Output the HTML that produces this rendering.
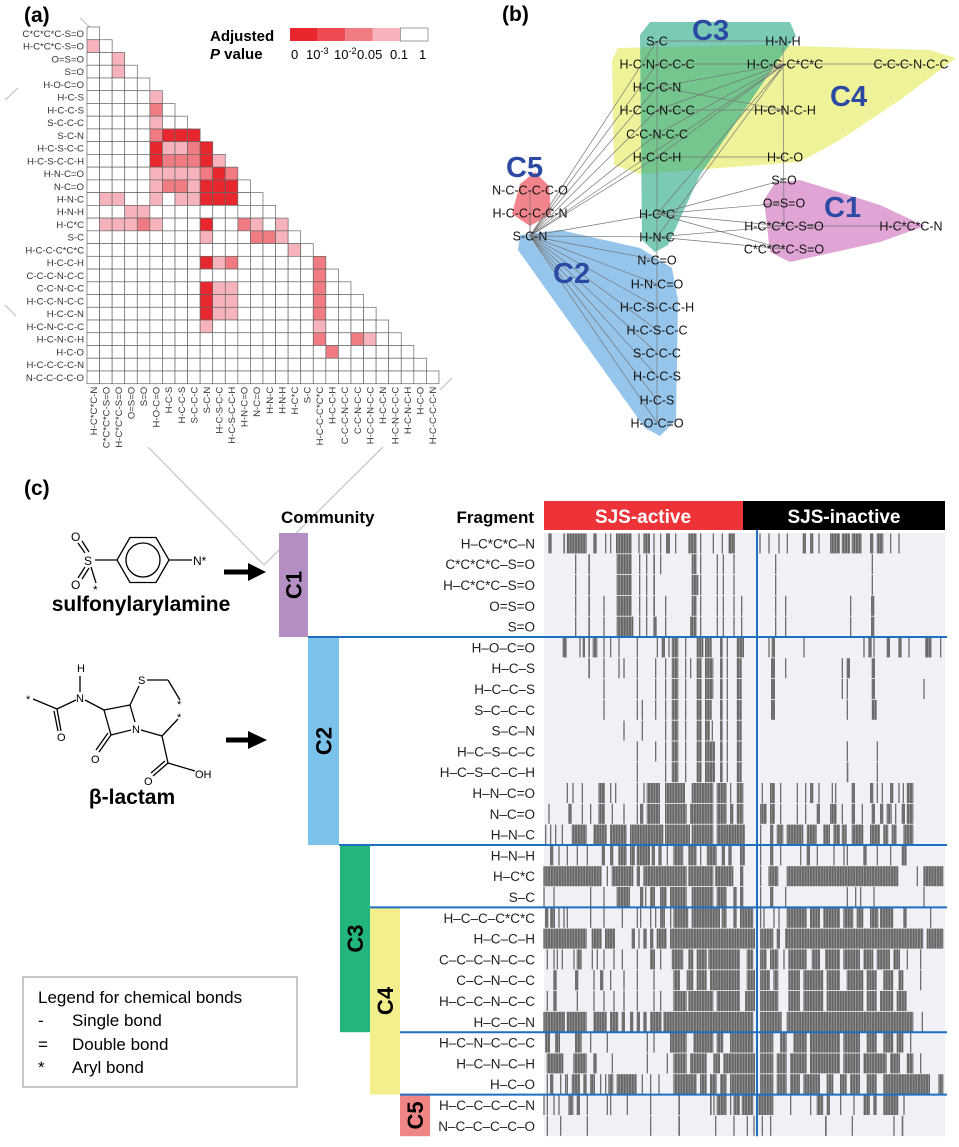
<!DOCTYPE html>
<html><head><meta charset="utf-8"><style>
html,body{margin:0;padding:0;background:#fff}
svg{display:block;font-family:"Liberation Sans",Arial,sans-serif}
</style></head><body>
<svg id="fig" width="959" height="1147" viewBox="0 0 959 1147" xmlns="http://www.w3.org/2000/svg">
<defs>
<pattern id="stripes" width="2.7" height="10" patternUnits="userSpaceOnUse"><rect x="0" y="0" width="2.7" height="10" fill="#a4a4a8"/><rect x="0" y="0" width="2" height="10" fill="#666"/></pattern>
</defs>
<text x="24" y="22" font-size="21" font-weight="bold">(a)</text>
<text x="502" y="21" font-size="21" font-weight="bold">(b)</text>
<text x="24" y="495" font-size="21" font-weight="bold">(c)</text>
<g stroke="#bbb" stroke-width="1">
<line x1="148" y1="447" x2="264" y2="565"/><line x1="383" y1="447" x2="264" y2="565"/>
<line x1="80" y1="18" x2="90" y2="27"/><line x1="5" y1="100" x2="18" y2="88"/><line x1="5" y1="305" x2="16" y2="316"/><line x1="440" y1="390" x2="452" y2="378"/>
</g>
<g id="pa"></g>
<g>
<text x="210" y="41" font-size="15" font-weight="bold">Adjusted</text>
<text x="210" y="59" font-size="15" font-weight="bold"><tspan font-style="italic">P</tspan> value</text>
<rect x="290" y="28" width="27.6" height="13" fill="#e8262e"/><rect x="317.6" y="28" width="27.6" height="13" fill="#ee4a52"/><rect x="345.2" y="28" width="27.6" height="13" fill="#f07b82"/><rect x="372.8" y="28" width="27.6" height="13" fill="#f7b3bb"/><rect x="400.4" y="28" width="27.6" height="13" fill="#fff" stroke="#888" stroke-width="0.8"/>
<text y="59" font-size="13"><tspan x="291">0</tspan><tspan x="306">10</tspan><tspan dy="-5" font-size="9">-3</tspan><tspan x="334" dy="5">10</tspan><tspan dy="-5" font-size="9">-2</tspan><tspan x="357" dy="5">0.05</tspan><tspan x="390">0.1</tspan><tspan x="419">1</tspan></text>
</g>
<g id="pb"></g>
<g id="pc"></g>
<g stroke="#000" stroke-width="1.3" fill="none">
<polygon points="169,560 156,582.5 130,582.5 117,560 130,537.5 156,537.5"/>
<circle cx="143" cy="560" r="17"/>
<line x1="95" y1="560" x2="117" y2="560"/><line x1="169" y1="560" x2="192" y2="560"/>
<line x1="85" y1="553" x2="78" y2="543"/><line x1="89" y1="552" x2="82" y2="541"/>
<line x1="85" y1="567" x2="78" y2="578"/><line x1="89" y1="568" x2="82" y2="579"/>
<line x1="91" y1="567" x2="96" y2="583"/>
</g>
<g font-size="12">
<text x="84" y="565">S</text><text x="71" y="541">O</text><text x="71" y="589">O</text><text x="93" y="594">*</text><text x="193" y="565">N*</text>
</g>
<text x="141" y="611" font-size="21" font-weight="bold" text-anchor="middle">sulfonylarylamine</text>
<g stroke="#000" stroke-width="1.3" fill="none">
<line x1="33" y1="699" x2="57" y2="709"/><line x1="57" y1="709" x2="61" y2="731"/><line x1="54" y1="711" x2="58" y2="731"/>
<line x1="57" y1="709" x2="76" y2="700"/><line x1="80" y1="692" x2="80" y2="676"/><line x1="85" y1="700" x2="104" y2="710"/>
<line x1="104" y1="710" x2="130" y2="705"/><line x1="130" y1="705" x2="135" y2="722"/><line x1="131" y1="730" x2="111" y2="735"/><line x1="111" y1="735" x2="104" y2="710"/>
<line x1="111" y1="735" x2="99" y2="752"/><line x1="108" y1="733" x2="96" y2="750"/>
<line x1="130" y1="705" x2="139" y2="686"/><line x1="147" y1="680" x2="168" y2="680"/><line x1="168" y1="680" x2="180" y2="700"/>
<line x1="141" y1="730" x2="162" y2="736"/><line x1="162" y1="736" x2="178" y2="719"/><line x1="162" y1="736" x2="168" y2="763"/>
<line x1="168" y1="763" x2="153" y2="776"/><line x1="165" y1="761" x2="151" y2="773"/><line x1="168" y1="763" x2="195" y2="771"/>
</g>
<g font-size="11">
<text x="26" y="703">*</text><text x="57" y="741">O</text><text x="76" y="702">N</text><text x="77" y="672">H</text><text x="132" y="733">N</text><text x="91" y="763">O</text><text x="138" y="684">S</text><text x="177" y="708">*</text><text x="177" y="721">*</text><text x="144" y="785">O</text><text x="195" y="778">OH</text>
</g>
<text x="132" y="804" font-size="21" font-weight="bold" text-anchor="middle">β-lactam</text>
<g fill="#000">
<rect x="224" y="569.5" width="26" height="5"/><polygon points="248,563 266,572 248,581"/>
<rect x="226" y="737.5" width="24" height="5"/><polygon points="248,731 267,740 248,749"/>
</g>
<g>
<rect x="23" y="977" width="274" height="110" fill="#fff" stroke="#aaa" stroke-width="1.3"/>
<text x="38" y="1003" font-size="17">Legend for chemical bonds</text>
<text x="38" y="1026" font-size="17">-</text><text x="72" y="1026" font-size="17">Single bond</text>
<text x="38" y="1050" font-size="17">=</text><text x="72" y="1050" font-size="17">Double bond</text>
<text x="38" y="1073" font-size="17">*</text><text x="72" y="1073" font-size="17">Aryl bond</text>
</g>
</svg>
<script>
const NS="http://www.w3.org/2000/svg";
function mk(tag,attrs,parent){const e=document.createElementNS(NS,tag);for(const k in attrs)e.setAttribute(k,attrs[k]);parent.appendChild(e);return e;}

// ---------- Panel A data ----------
const rowLabels=["C*C*C*C-S=O","H-C*C*C-S=O","O=S=O","S=O","H-O-C=O","H-C-S","H-C-C-S","S-C-C-C","S-C-N","H-C-S-C-C","H-C-S-C-C-H","H-N-C=O","N-C=O","H-N-C","H-N-H","H-C*C","S-C","H-C-C-C*C*C","H-C-C-H","C-C-C-N-C-C","C-C-N-C-C","H-C-C-N-C-C","H-C-C-N","H-C-N-C-C-C","H-C-N-C-H","H-C-O","H-C-C-C-C-N","N-C-C-C-C-O"];
const colLabels=["H-C*C*C-N","C*C*C*C-S=O","H-C*C*C-S=O","O=S=O","S=O","H-O-C=O","H-C-S","H-C-C-S","S-C-C-C","S-C-N","H-C-S-C-C","H-C-S-C-C-H","H-N-C=O","N-C=O","H-N-C","H-N-H","H-C*C","S-C","H-C-C-C*C*C","H-C-C-H","C-C-C-N-C-C","C-C-N-C-C","H-C-C-N-C-C","H-C-C-N","H-C-N-C-C-C","H-C-N-C-H","H-C-O","H-C-C-C-C-N"];
const levelColors=["#ffffff","#e8262e","#ee4a52","#f07b82","#f7b3bb"];
// [row, col, level] (1 = p<1e-3 ... 4 = p<0.1)
const sigCells=[[1,0,4],[2,2,4],[3,2,4],[5,5,4],[6,5,3],[7,5,4],[8,5,3],[8,6,1],[8,7,1],[8,8,1],
[9,5,1],[9,6,4],[9,7,4],[9,8,3],[9,9,1],[10,5,1],[10,6,3],[10,7,3],[10,8,3],[10,9,1],[10,10,4],
[11,5,4],[11,6,4],[11,7,4],[11,8,4],[11,9,3],[11,10,1],[11,11,3],[12,5,4],[12,6,3],[12,7,3],[12,8,4],[12,9,1],[12,10,1],[12,11,1],
[13,1,4],[13,2,4],[13,5,4],[13,7,4],[13,8,4],[13,9,1],[13,10,1],[13,11,1],[14,3,4],[14,4,4],
[15,1,4],[15,2,4],[15,3,4],[15,4,3],[15,5,4],[15,9,1],[15,12,3],[15,13,4],[15,15,4],[16,9,4],[16,13,3],[16,14,3],[16,15,4],
[17,16,4],[18,9,1],[18,10,4],[18,11,3],[18,18,3],[19,18,3],[20,9,1],[20,10,4],[20,11,4],[20,18,3],[21,9,1],[21,10,4],[21,11,4],[21,18,3],
[22,9,1],[22,10,4],[22,11,4],[22,18,3],[23,9,4],[23,18,4],[24,18,3],[24,21,3],[24,22,4],[25,19,3]];

// ---------- Panel B data ----------
const nodeNames=["S-C","H-N-H","H-C-N-C-C-C","H-C-C-C*C*C","C-C-C-N-C-C","H-C-C-N","H-C-C-N-C-C","H-C-N-C-H","C-C-N-C-C","H-C-C-H","H-C-O","S=O","O=S=O","H-C*C*C-S=O","H-C*C*C-N","C*C*C*C-S=O","N-C-C-C-C-O","H-C-C-C-C-N","S-C-N","H-C*C","H-N-C","N-C=O","H-N-C=O","H-C-S-C-C-H","H-C-S-C-C","S-C-C-C","H-C-C-S","H-C-S","H-O-C=O"];
const nodeX=[657,783,657,785,911,657,657,785,657,657,785,784,784,784,911,784,530,530,530,657,657,657,657,657,657,657,657,657,657];
const nodeY=[41,41,64,64,64,87,110,110,134,157,157,180,203,226,226,249,190,213,236,214,237,260,284,307,330,353,376,400,423];
const edges=[["S-C-N","N-C-C-C-C-O"],["S-C-N","H-C-C-C-C-N"],["S-C-N","S-C"],["S-C-N","H-C-N-C-C-C"],["S-C-N","H-C-C-N"],["S-C-N","H-C-C-N-C-C"],["S-C-N","C-C-N-C-C"],["S-C-N","H-C-C-H"],["S-C-N","H-C*C"],["S-C-N","H-N-C"],["S-C-N","N-C=O"],["S-C-N","H-N-C=O"],["S-C-N","H-C-S-C-C-H"],["S-C-N","H-C-S-C-C"],["S-C-N","S-C-C-C"],["S-C-N","H-C-C-S"],["S-C-N","H-C-S"],["S-C-N","H-O-C=O"],["S-C-N","H-C-C-C*C*C"],
["H-C-C-C*C*C","H-C-N-C-C-C"],["H-C-C-C*C*C","C-C-C-N-C-C"],["H-C-C-C*C*C","H-C-C-N"],["H-C-C-C*C*C","H-C-C-N-C-C"],["H-C-C-C*C*C","C-C-N-C-C"],["H-C-C-C*C*C","H-C-C-H"],["H-C-C-C*C*C","H-C*C"],["H-C-C-C*C*C","H-N-C"],
["S-C","H-N-H"],["S-C","H-O-C=O"],["H-N-H","H-C*C*C-S=O"],["H-C-C-N-C-C","H-C-N-C-H"],["H-C-C-N","H-C-N-C-H"],["H-C-C-H","H-C-O"],
["H-C*C","S=O"],["H-C*C","O=S=O"],["H-C*C","H-C*C*C-S=O"],["H-C*C","C*C*C*C-S=O"],["H-N-C","H-C*C*C-S=O"],["H-N-C","C*C*C*C-S=O"],["H-C*C*C-S=O","H-C*C*C-N"]];
const hulls=[
 {name:"C4",fill:"rgba(228,232,70,0.55)",pts:[[618,48],[760,45],[930,50],[956,58],[900,100],[840,140],[800,162],[640,174],[614,165],[612,60]]},
 {name:"C3",fill:"rgba(40,170,135,0.62)",pts:[[650,22],[790,22],[796,36],[782,55],[700,175],[668,245],[655,252],[642,240],[640,35]]},
 {name:"C1",fill:"rgba(212,130,195,0.72)",pts:[[775,183],[800,180],[880,205],[925,226],[880,242],[790,262],[770,252],[764,200]]},
 {name:"C2",fill:"rgba(105,172,228,0.7)",pts:[[520,235],[560,230],[640,248],[672,268],[678,300],[676,420],[660,436],[645,428],[575,330],[518,250]]},
 {name:"C5",fill:"rgba(238,110,120,0.85)",pts:[[520,184],[535,172],[549,186],[551,214],[530,226],[512,214]]}];
const hullLabels=["C3","C4","C1","C2","C5"];
const hullLabelX=[692,830,824,553,506];
const hullLabelY=[40,106,217,283,177];

// ---------- Panel C data ----------
const fragments=["H-C*C*C-N","C*C*C*C-S=O","H-C*C*C-S=O","O=S=O","S=O","H-O-C=O","H-C-S","H-C-C-S","S-C-C-C","S-C-N","H-C-S-C-C","H-C-S-C-C-H","H-N-C=O","N-C=O","H-N-C","H-N-H","H-C*C","S-C","H-C-C-C*C*C","H-C-C-H","C-C-C-N-C-C","C-C-N-C-C","H-C-C-N-C-C","H-C-C-N","H-C-N-C-C-C","H-C-N-C-H","H-C-O","H-C-C-C-C-N","N-C-C-C-C-O"];
const communityNames=["C1","C2","C3","C4","C5"];
const communityStart=[0,5,15,18,27];
const communityEnd=[5,15,24,27,29];
const communityColors=["#b48fc4","#7bc3ea","#22b57c","#f3ef8c","#f08585"];
const nCompounds=1230;
const nActive=650;
// present-compound runs per fragment: single index n or [start,end]
const presence=[
[[25,35],[70,75],[80,140],[160,170],195,210,[228,275],295,[310,330],340,360,[378,390],405,[445,470],480,518,545,[565,585],658,685,715,740,[788,798],[810,820],835,[870,900],[905,930],[935,965],[990,1000],[1010,1030],1050,1075],
[105,[145,150],[230,275],297,318,[340,345],360,[455,470],480,530,548,580,705,995],
[105,[145,150],[230,275],297,318,[340,345],[455,475],480,530,548,580,705,995],
[105,[145,150],190,[230,275],297,318,[340,345],375,[455,470],480,530,548,580,603,705,735,930,[993,1003]],
[105,[145,150],190,[230,280],297,318,[340,350],375,[450,470],480,530,548,580,603,705,735,930,[993,1003]],
[[68,80],118,[128,135],[145,150],[158,172],190,210,235,290,350,[365,375],385,[395,415],435,[470,490],[495,515],[540,548],560,[590,612],685,[695,705],790,970,[985,995],1000,[1040,1050],[1075,1085],1105,[1155,1175],1200],
[[145,150],190,235,250,290,345,375,[395,415],435,450,[470,485],[495,520],[540,548],560,[590,605],[693,705],735,905,[920,930],[995,1005]],
[190,290,345,375,[395,415],435,[470,485],[495,520],[540,548],560,[590,605],[693,705],905,920,[995,1005],1150],
[190,290,305,345,375,[395,415],435,[470,485],[495,515],[540,548],560,[590,605],[693,705],920,[995,1010]],
[250,305,375,[395,415],435,[470,485],[495,510],515,[540,548],560,[590,605]],
[290,345,375,[395,415],435,[470,485],[495,525],[540,548],560,[590,605],920,1010],
[290,375,[395,415],435,[470,485],[495,525],[540,548],560,[590,605],[920,925],1010],
[80,97,125,[175,195],210,225,290,310,[320,360],[375,435],[455,520],[530,560],570,[590,610],665,[690,705],720,770,795,[810,820],835,875,885,[935,945],[990,1000],1010,1025,[1050,1060],1075,1088,[1100,1120]],
[25,[85,95],125,150,[175,195],215,250,290,[300,310],[320,360],[375,440],[450,520],[530,560],[570,580],[590,610],[660,680],[690,705],720,770,795,[830,840],[870,890],905,[935,945],965,[995,1005],[1020,1030],[1040,1055],1065,[1085,1095],[1100,1120]],
[15,30,45,65,[95,140],[160,200],[210,260],[270,370],[375,450],[455,520],[530,615],660,[690,700],[710,730],[740,790],[800,830],[850,870],[880,900],[905,920],[935,970],[990,1020],[1030,1045],[1055,1070],[1090,1120]],
[[30,40],55,80,110,140,[185,195],[210,220],[235,260],[270,285],[290,330],[335,345],[355,365],380,[400,430],[445,470],480,[500,530],[545,555],[565,575],[600,615],660,[690,700],720,780,[800,810],830,880,910,920,[970,980],1010,1050,[1085,1100]],
[[10,185],200,[215,280],[290,300],[310,440],[445,520],[525,580],[600,610],660,[685,715],[740,1075],1130,[1150,1210]],
[10,40,150,190,[230,270],[300,310],315,[330,345],[360,380],[390,440],[455,520],[530,560],[580,590],[600,610],660,[690,700],735,920,945,960,1000,1150],
[[15,25],[30,45],55,70,80,150,190,245,290,300,330,345,[360,375],390,[400,445],[455,540],[545,560],[580,590],[600,640],660,670,700,715,[740,800],[810,840],[850,900],[910,940],[950,970],[990,1015],[1020,1060],[1090,1100],1170],
[[10,140],[155,185],[195,225],[275,285],295,[310,320],[330,340],[350,380],[390,645],[660,700],[710,720],[735,1150],[1160,1210]],
[20,40,50,65,100,[110,125],155,170,190,220,245,290,[330,345],360,[395,430],[445,460],[470,500],[505,600],[620,640],[660,680],[690,715],730,[745,800],[815,840],[855,900],[910,960],[970,1000],[1010,1050],[1060,1080],1100,1140],
[[40,50],[105,115],160,[180,190],210,250,290,340,[400,420],[440,460],[470,500],[510,600],[620,645],[660,690],[700,715],[745,780],[790,850],[860,900],[920,970],[980,1010],[1030,1060],[1075,1090],1140],
[20,[40,50],110,160,190,220,250,290,340,360,[400,440],[445,520],[530,600],[615,645],[660,715],[745,780],[790,850],[860,970],[980,1010],[1020,1060],[1070,1100]],
[[10,75],[80,140],[160,200],[210,235],[245,255],[270,280],[290,300],[310,320],[330,365],[370,640],[660,725],[740,1120],1145],
[[15,30],[45,60],[105,125],150,200,320,340,[390,440],[460,520],[530,550],[570,640],[660,700],[720,740],[760,800],[810,900],[910,960],[980,1010],[1030,1060],[1070,1090],1110],
[[20,70],[100,140],[160,170],215,320,380,[400,440],[450,500],[520,540],[550,645],[660,700],[710,740],[750,800],[810,900],[910,960],[970,1040],[1050,1080],[1100,1120],1140],
[20,[30,40],60,75,80,[95,120],[130,140],[150,165],180,195,[205,220],[230,290],305,330,355,[400,470],[480,500],[510,530],[540,560],[570,645],[660,700],[710,740],[750,780],[790,840],[860,880],[900,920],[930,960],[980,1010],[1030,1170],[1195,1210]],
[10,20,40,55,[85,100],[110,120],140,200,210,260,330,[415,420],[510,515],520,[530,560],570,[580,600],[605,640],[655,700],750,810,[830,850],[860,870],900,940,[970,990],[1000,1010],[1030,1075],1090],
[20,60,140,330,[415,420],525,580,620,640,665,690,[855,860],935,1060,[1085,1090]]];

// ================= Panel A render =================
const pa=document.getElementById('pa');
const cw=12.57, ch=12.74, gx0=87, gy0=27;
const cellX=c=>gx0+c*cw, cellY=r=>gy0+r*ch;
const lvl={};
sigCells.forEach(s=>{lvl[s[0]+','+s[1]]=s[2];});
for(let r=0;r<rowLabels.length;r++){
  for(let c=0;c<=r;c++){
    const rc=mk('rect',{x:cellX(c),y:cellY(r),width:cw,height:ch,fill:levelColors[lvl[r+','+c]||0],stroke:'#666','stroke-width':0.7},pa);
    
    
  }
  const t=mk('text',{x:gx0-3,y:cellY(r)+ch/2+3.5,'font-size':9.6,'text-anchor':'end',fill:'#333'},pa);
  t.textContent=rowLabels[r];
  
  
}
colLabels.forEach((lab,c)=>{
  const x=cellX(c)+cw/2+3.5, y=gy0+rowLabels.length*ch+3;
  const t=mk('text',{x:x,y:y,'font-size':9.6,'text-anchor':'end',fill:'#333',transform:`rotate(-90 ${x} ${y})`},pa);
  t.textContent=lab;
  
  
});

// ================= Panel B render =================
const pb=document.getElementById('pb');
const nodeIdx=n=>nodeNames.indexOf(n);
hulls.forEach(h=>{
  const p=mk('polygon',{points:h.pts.map(q=>q.join(',')).join(' '),fill:h.fill,stroke:'none','stroke-linejoin':'round'},pb);
  
  
});
edges.forEach(e=>{
  const a=nodeIdx(e[0]), b=nodeIdx(e[1]);
  const l=mk('line',{x1:nodeX[a],y1:nodeY[a],x2:nodeX[b],y2:nodeY[b],stroke:'#777','stroke-width':0.7},pb);
  
  
});
nodeNames.forEach((n,i)=>{
  const t=mk('text',{x:nodeX[i],y:nodeY[i]+4.5,'font-size':12.5,'text-anchor':'middle',fill:'#111'},pb);
  t.textContent=n;
  
  
});
hullLabels.forEach((n,i)=>{
  const t=mk('text',{x:hullLabelX[i],y:hullLabelY[i],'font-size':29,'font-weight':'bold',fill:'#2c4aa3'},pb);
  t.textContent=n;
  
  
});

// ================= Panel C render =================
const pc=document.getElementById('pc');
const hx0=544, hx1=945, rowTop=533, rowH=20.8;
const ux=u=>540+u*(410/nCompounds); // compound index -> x
const ry=r=>rowTop+r*rowH;
let t;
t=mk('text',{x:281,y:523,'font-size':17,'font-weight':'bold'},pc);t.textContent='Community';


t=mk('text',{x:534,y:523,'font-size':17,'font-weight':'bold','text-anchor':'end'},pc);t.textContent='Fragment';


let r1=mk('rect',{x:544,y:501,width:199,height:29,fill:'#ee3338'},pc);


let r2=mk('rect',{x:743,y:501,width:202,height:29,fill:'#000'},pc);


t=mk('text',{x:643,y:523,'font-size':19,'font-weight':'bold',fill:'#fff','text-anchor':'middle'},pc);t.textContent='SJS-active';


t=mk('text',{x:844,y:523,'font-size':19,'font-weight':'bold',fill:'#fff','text-anchor':'middle'},pc);t.textContent='SJS-inactive';


let bg=mk('rect',{x:hx0,y:rowTop,width:hx1-hx0,height:fragments.length*rowH,fill:'#f0f1f7'},pc);


fragments.forEach((f,r)=>{
  const lt=mk('text',{x:535,y:ry(r)+rowH/2+5,'font-size':13.5,'text-anchor':'end',fill:'#222'},pc);
  lt.textContent=f.replace(/-/g,'\u2013');
  
  
  presence[r].forEach(s=>{
    const a=Array.isArray(s)?s[0]:s, b=Array.isArray(s)?s[1]:s+4;
    const x=ux(a), w=Math.max(ux(b)-x,1.3);
    const br=mk('rect',{x:x,y:ry(r)+0.4,width:w,height:rowH-0.8,fill:w>4?'url(#stripes)':'#707070'},pc);
    
    
  });
});
// community bars
const commX=[279,308,340,370,400], commW=[29,31,30,30,30];
communityNames.forEach((c,i)=>{
  const y0=ry(communityStart[i]), y1=ry(communityEnd[i]);
  const rb=mk('rect',{x:commX[i],y:y0,width:commW[i],height:y1-y0,fill:communityColors[i]},pc);
  
  
  const cx=commX[i]+commW[i]/2+8, cy=(y0+y1)/2;
  const lt=mk('text',{x:cx,y:cy,'font-size':22,'font-weight':'bold','text-anchor':'middle',transform:`rotate(-90 ${cx} ${cy})`},pc);
  lt.textContent=c;
  
  
});
// separators
const sepRow=[5,15,18,24,27];
const sepStartX=[308,339,370,400,400];
sepRow.forEach((r,i)=>{
  const l=mk('line',{x1:sepStartX[i],y1:ry(r),x2:947,y2:ry(r),stroke:'#1f6fc0','stroke-width':2},pc);
  
  
});
const vl=mk('line',{x1:757,y1:530,x2:757,y2:ry(fragments.length),stroke:'#1f6fc0','stroke-width':2},pc);


</script>
</body></html>
